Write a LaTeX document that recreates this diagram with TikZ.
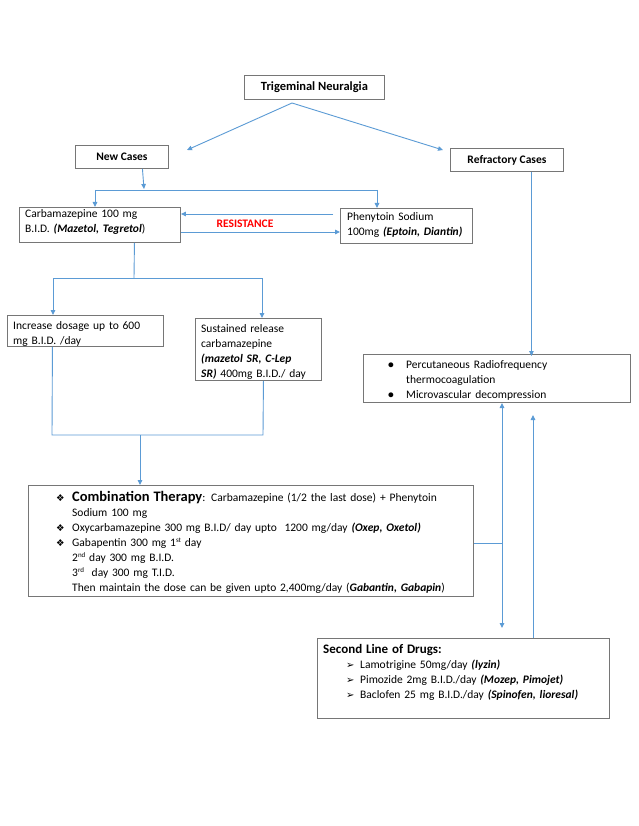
\documentclass[tikz,border=0pt]{standalone}
\usepackage{fontspec}
\setmainfont{Carlito}
\newfontfamily\dejavu{DejaVu Sans}
\usetikzlibrary{arrows.meta}
\definecolor{arrowblue}{RGB}{91,155,213}
\definecolor{boxgray}{RGB}{118,118,118}
\tikzset{
  box/.style={draw=boxgray, line width=0.9pt, rectangle, inner sep=0pt, anchor=north west},
  conn/.style={draw=arrowblue, line width=0.9pt},
  arr/.style={conn, -{Triangle[length=5pt,width=4.5pt]}},
  dblarr/.style={conn, {Triangle[length=5pt,width=4.5pt]}-{Triangle[length=5pt,width=4.5pt]}},
  mtext/.style={anchor=base west, inner sep=0pt, align=left, text width=440pt},
}
\newcommand{\bi}[1]{\textbf{\textit{#1}}}
\newcommand{\diam}{{\dejavu\fontsize{9.5}{9.5}\selectfont ❖}}
\newcommand{\arrowbul}{{\dejavu\fontsize{10}{10}\selectfont ➢}}
\newcommand{\sups}[1]{\raisebox{3.5pt}{\fontsize{7}{7}\selectfont #1}}
\begin{document}
\begin{tikzpicture}[x=1pt,y=-1pt,font=\fontsize{11.5}{15}\selectfont]
\useasboundingbox (0,0) rectangle (638,826);
\fill[white] (0,0) rectangle (638,826);

% boxes
\node[box, minimum width=140pt, minimum height=24pt, font=\fontsize{12.5}{15}\selectfont\bfseries] (tn) at (244,75) {Trigeminal Neuralgia};
\node[box, minimum width=93pt, minimum height=23pt, font=\fontsize{11.5}{15}\selectfont\bfseries] (nc) at (75,145) {New Cases};
\node[box, minimum width=113pt, minimum height=23pt, font=\fontsize{11.5}{15}\selectfont\bfseries] (rc) at (450,148) {Refractory Cases};
\node[box, minimum width=161pt, minimum height=35pt] (carb) at (19,207) {};
\node[box, minimum width=132pt, minimum height=35pt] (phen) at (340,208) {};
\node[box, minimum width=156pt, minimum height=31pt] (inc) at (7,315) {};
\node[box, minimum width=126pt, minimum height=62pt] (sus) at (195,318) {};
\node[box, minimum width=267pt, minimum height=48pt] (perc) at (363,354) {};
\node[box, minimum width=445pt, minimum height=111pt] (comb) at (28,485) {};
\node[box, minimum width=292pt, minimum height=80pt] (sec) at (317,638) {};

% texts
\node[mtext] (carbT) at (25,218) {Carbamazepine 100 mg\\B.I.D. \bi{(Mazetol, Tegretol})};
\node[mtext] (phenT) at (347,220) {Phenytoin Sodium\\100mg \bi{(Eptoin, Diantin)}};
\node[font=\fontsize{11.5}{15}\selectfont\bfseries, text=red, inner sep=0pt] (res) at (245,224) {RESISTANCE};
\node[mtext] (incT) at (13,329) {Increase dosage up to 600\\mg B.I.D. /day};
\node[mtext] (susT) at (201,332) {Sustained release\\carbamazepine\\\bi{(mazetol SR, C-Lep}\\\bi{SR)} 400mg B.I.D./ day};
\node[mtext] (percT) at (388,368) {\makebox[18pt][l]{\bfseries •}Percutaneous Radiofrequency\\\hspace*{18pt}thermocoagulation\\\makebox[18pt][l]{\bfseries •}Microvascular decompression};
\node[mtext] (combT) at (56,501) {\makebox[16pt][l]{\diam}{\fontsize{14.5}{15}\selectfont\bfseries Combination Therapy}: Carbamazepine (1/2 the last dose) + Phenytoin\\
\hspace*{16pt}Sodium 100 mg\\
\makebox[16pt][l]{\diam}Oxycarbamazepine 300 mg B.I.D/ day upto~ 1200 mg/day \bi{(Oxep, Oxetol)}\\
\makebox[16pt][l]{\diam}Gabapentin 300 mg 1\sups{st} day\\
\hspace*{16pt}2\sups{nd} day 300 mg B.I.D.\\
\hspace*{16pt}3\sups{rd}~ day 300 mg T.I.D.\\
\hspace*{16pt}Then maintain the dose can be given upto 2,400mg/day (\bi{Gabantin, Gabapin})};
\node[mtext] (secT) at (323,653) {{\fontsize{13}{15}\selectfont\bfseries Second Line of Drugs:}\\
\hspace*{23pt}\makebox[14pt][l]{\arrowbul}Lamotrigine 50mg/day \bi{(lyzin)}\\
\hspace*{23pt}\makebox[14pt][l]{\arrowbul}Pimozide 2mg B.I.D./day \bi{(Mozep, Pimojet)}\\
\hspace*{23pt}\makebox[14pt][l]{\arrowbul}Baclofen 25 mg B.I.D./day \bi{(Spinofen, lioresal)}};

% connector points
\coordinate (apex) at (292,103);
\coordinate (ncIn) at (187,150);
\coordinate (rcIn) at (443,150);
\coordinate (ncOut) at ([xshift=20.5pt]nc.south);
\coordinate (ncEnd) at (144,189);
\coordinate (h1l) at (95,190);
\coordinate (h1r) at (377,190);
\coordinate (carbOut) at ([xshift=34.5pt]carb.south);
\coordinate (h2m) at (134,278);
\coordinate (h2l) at (53,278);
\coordinate (h2r) at (262,278);
\coordinate (incOut) at ([xshift=-33pt]inc.south);
\coordinate (susOut) at ([xshift=5pt]sus.south);
\coordinate (h3l) at (52,435);
\coordinate (h3r) at (263,435);
\coordinate (h3m) at (140,435);
\coordinate (rcOut) at ([xshift=24.5pt]rc.south);
\coordinate (vJoin) at (502,543);
\coordinate (vTop) at (502,403);
\coordinate (vBot) at (502,628);
\coordinate (upTop) at (533,415);

% connectors
\draw[arr] (apex) -- (ncIn);
\draw[arr] (apex) -- (rcIn);
\draw[arr] (ncOut) -- (ncEnd);
\draw[conn] (h1l) -- (h1r);
\draw[arr] (h1l) -- (h1l |- carb.north);
\draw[arr] (h1r) -- (h1r |- phen.north);
\draw[arr] ([xshift=-7pt]phen.west |- 0,214) -- (carb.east |- 0,214);
\draw[arr] (carb.east |- 0,232) -- (phen.west |- 0,232);
\draw[conn] (carbOut) -- (h2m);
\draw[conn] (h2l) -- (h2r);
\draw[arr] (h2l) -- (h2l |- inc.north);
\draw[arr] (h2r) -- (h2r |- sus.north);
\draw[conn] (incOut) -- (h3l) -- (h3r) -- (susOut);
\draw[arr] (h3m) -- (h3m |- comb.north);
\draw[arr] (rcOut) -- ([yshift=-2pt]rcOut |- perc.north);
\draw[conn] (comb.east |- vJoin) -- (vJoin);
\draw[dblarr] (vTop) -- (vBot);
\draw[arr] (sec.north -| upTop) -- (upTop);
\end{tikzpicture}
\end{document}
